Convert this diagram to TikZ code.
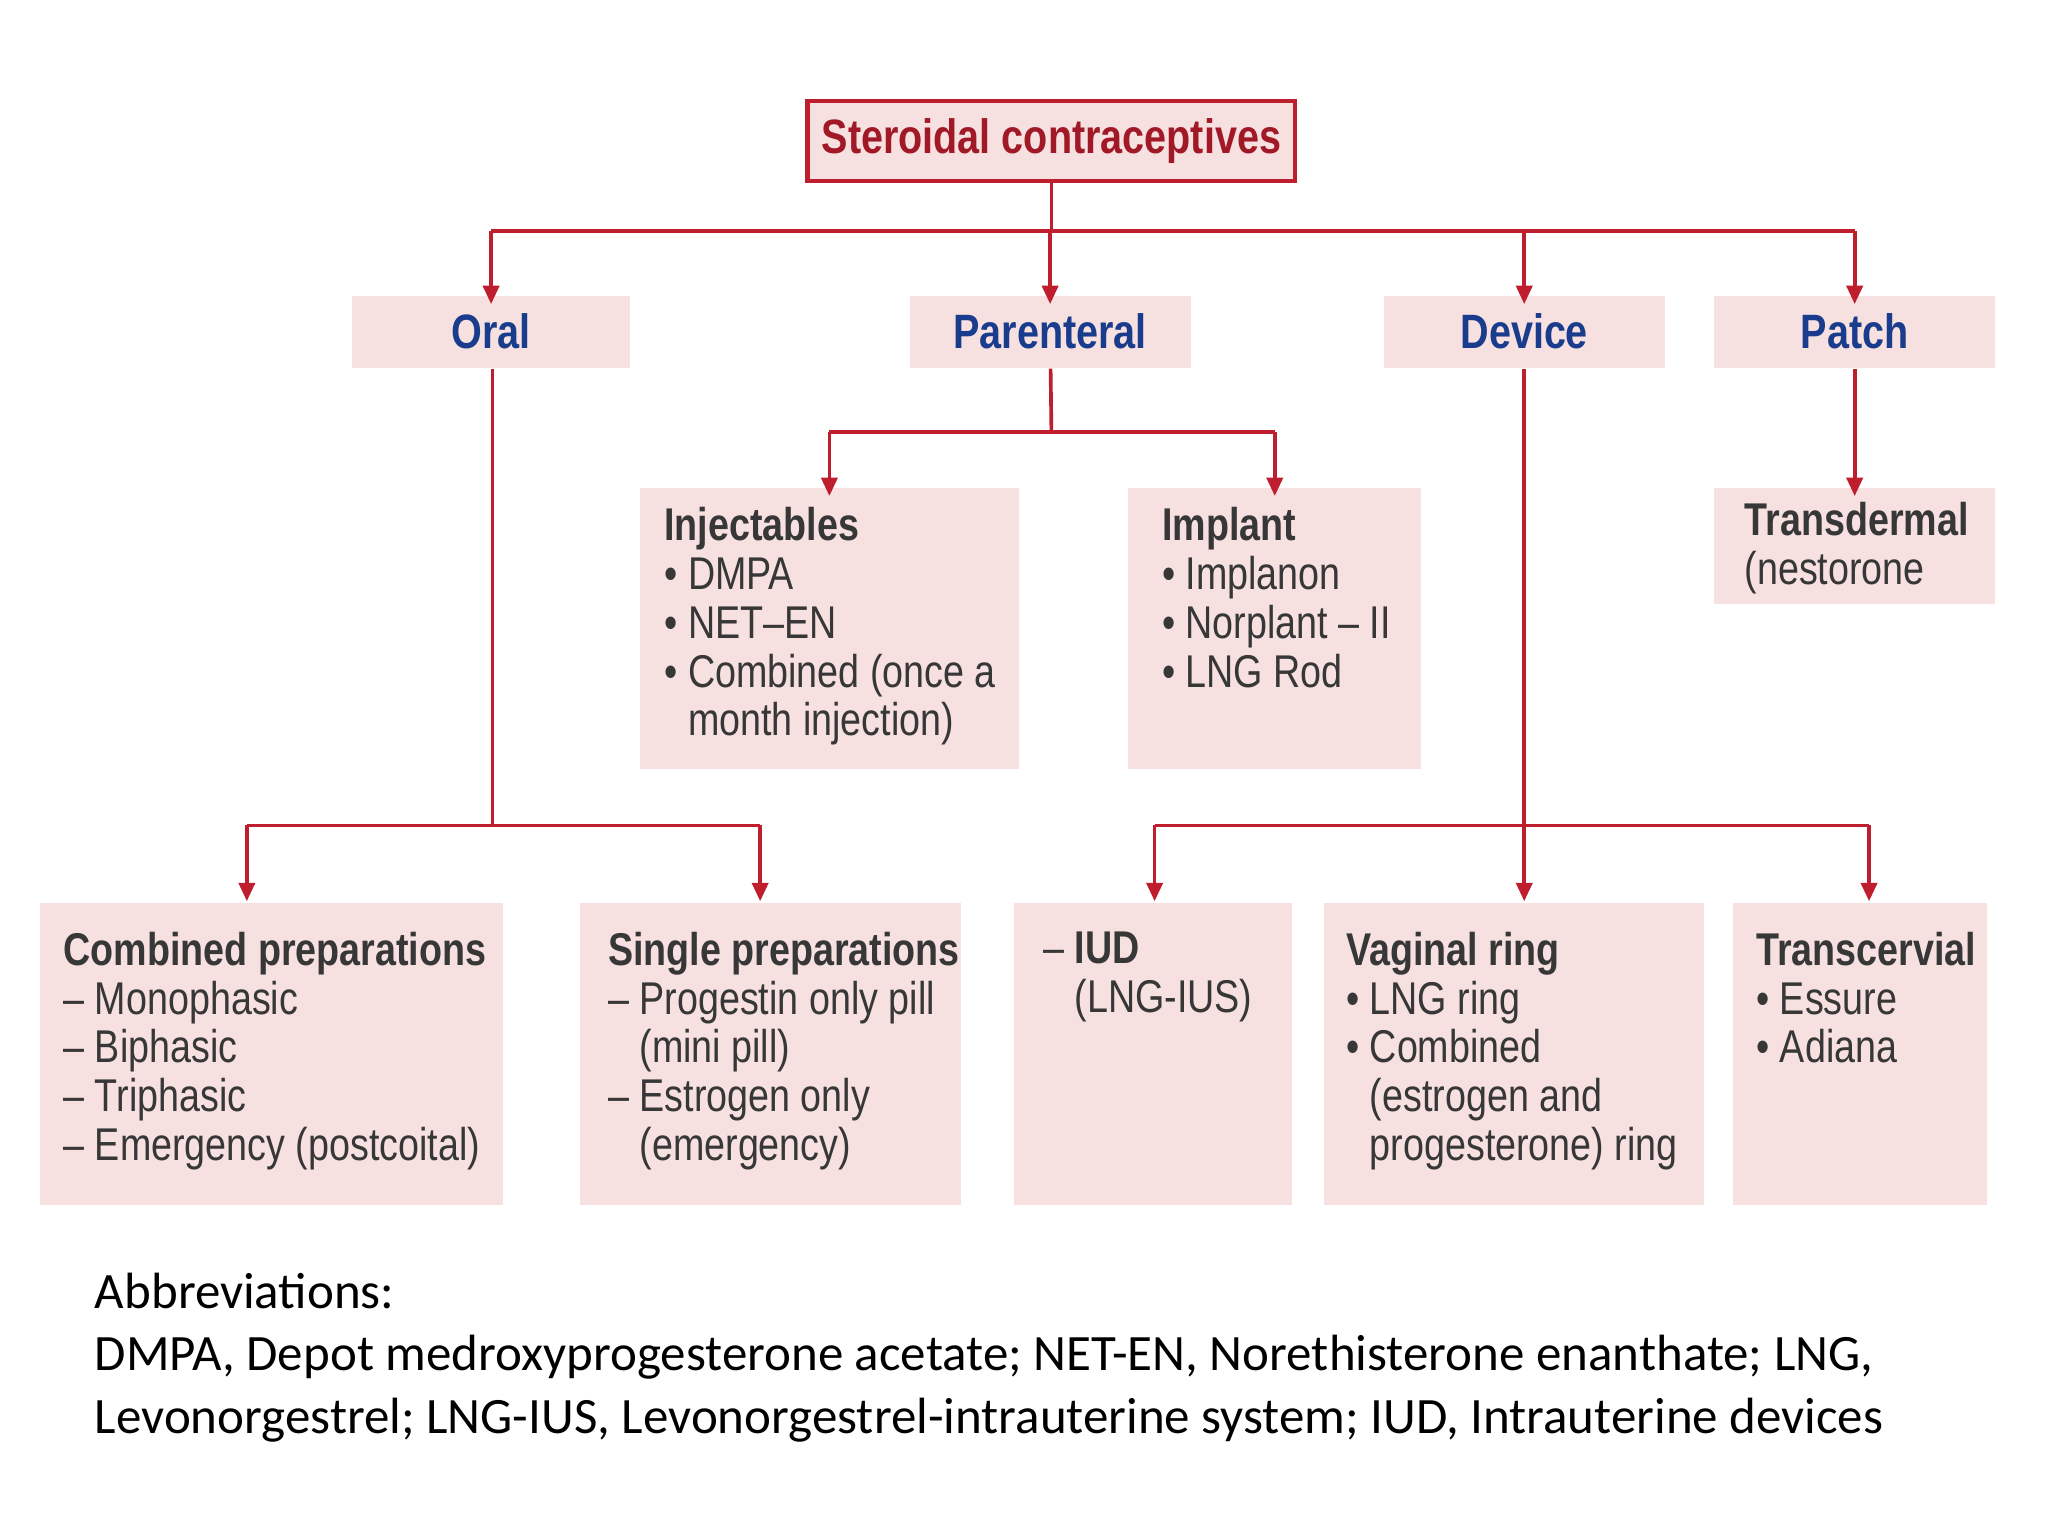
\documentclass[tikz,border=0pt]{standalone}
\usepackage{fontspec}
\setmainfont{Liberation Sans}[FakeStretch=0.82]
\newfontfamily\abbrfont{Carlito}
\usetikzlibrary{arrows.meta,positioning}
\definecolor{linered}{RGB}{190,30,45}
\definecolor{boxpink}{RGB}{246,224,224}
\definecolor{headblue}{RGB}{25,60,140}
\definecolor{txtgray}{RGB}{55,55,55}
\begin{document}
\begin{tikzpicture}[x=0.01cm,y=-0.01cm,
  box/.style={fill=boxpink,inner sep=0pt},
  head/.style={box,minimum height=0.55cm,font=\fontsize{10.5}{12}\selectfont\bfseries,text=headblue},
  body/.style={anchor=north west,align=left,inner sep=0pt,text=txtgray,font=\fontsize{10}{10.6}\selectfont},
  link/.style={draw=linered,line width=0.8pt},
  arr/.style={link,-{Triangle[length=4pt,width=3.5pt]}}]
\useasboundingbox (0,0) rectangle (1568,1176);

% top
\node[box,draw=linered,line width=1pt,minimum width=3.73cm,minimum height=0.61cm,
  font=\fontsize{10.5}{12}\selectfont\bfseries,text=linered!85!black] (steroid) at (805,108) {Steroidal contraceptives};

% first level
\node[head,minimum width=2.13cm] (oral) at (376,254) {Oral};
\node[head,minimum width=2.15cm] (parent) at (804,254) {Parenteral};
\node[head,minimum width=2.15cm] (device) at (1167,254) {Device};
\node[head,minimum width=2.15cm] (patch) at (1420,254) {Patch};

% second level boxes
\node[box,minimum width=2.90cm,minimum height=2.15cm] (inj) at (635,481) {};
\node[box,minimum width=2.24cm,minimum height=2.15cm] (impl) at (976,481) {};
\node[box,minimum width=2.15cm,minimum height=0.89cm] (trans) at (1420,418) {};
\node[box,minimum width=3.54cm,minimum height=2.31cm] (comb) at (208,807) {};
\node[box,minimum width=2.91cm,minimum height=2.31cm] (single) at (590,807) {};
\node[box,minimum width=2.13cm,minimum height=2.31cm] (iud) at (883,807) {};
\node[box,minimum width=2.91cm,minimum height=2.31cm] (vring) at (1159,807) {};
\node[box,minimum width=1.94cm,minimum height=2.31cm] (tcerv) at (1424,807) {};

% texts
\node[body] (injt) at (508,388) {\textbf{Injectables}\\ • DMPA\\ • NET–EN\\ • Combined (once a\\ \hphantom{• }month injection)};
\node[body] (implt) at (889,388) {\textbf{Implant}\\ • Implanon\\ • Norplant – II\\ • LNG Rod};
\node[body] (transt) at (1335,384) {\textbf{Transdermal}\\ (nestorone};
\node[body] (combt) at (48,713) {\textbf{Combined preparations}\\ – Monophasic\\ – Biphasic\\ – Triphasic\\ – Emergency (postcoital)};
\node[body] (singlet) at (465,713) {\textbf{Single preparations}\\ – Progestin only pill\\ \hphantom{– }(mini pill)\\ – Estrogen only\\ \hphantom{– }(emergency)};
\node[body] (iudt) at (798,713) {– \textbf{IUD}\\ \hphantom{– }(LNG-IUS)};
\node[body] (vringt) at (1030,713) {\textbf{Vaginal ring}\\ • LNG ring\\ • Combined\\ \hphantom{• }(estrogen and\\ \hphantom{• }progesterone) ring};
\node[body] (tcervt) at (1344,713) {\textbf{Transcervial}\\ • Essure\\ • Adiana};

% abbreviations
\node[anchor=north west,align=left,inner sep=0pt,font=\abbrfont\fontsize{11.1}{13.6}\selectfont] (abbr) at (72,974)
  {Abbreviations:\\ DMPA, Depot medroxyprogesterone acetate; NET-EN, Norethisterone enanthate; LNG,\\ Levonorgestrel; LNG-IUS, Levonorgestrel-intrauterine system; IUD, Intrauterine devices};

% connectors
\coordinate (top) at (805,177);
\draw[link] (steroid) -- (top);
\draw[link] (oral.north |- top) -- (patch.north |- top);
\foreach \n in {oral,parent,device,patch}
  \draw[arr] (\n.north |- top) -- ([yshift=-2pt]\n.north);

\coordinate (par) at (805,331);
\draw[link] (parent) -- (par);
\draw[link] (inj.north |- par) -- (impl.north |- par);
\draw[arr] (inj.north |- par) -- ([yshift=-2pt]inj.north);
\draw[arr] (impl.north |- par) -- ([yshift=-2pt]impl.north);

\draw[arr] (patch) -- ([yshift=-2pt]trans.north);

\coordinate (orl) at (377,632);
\draw[link] (oral.south -| orl) -- (orl);
\draw[link] (189,632) -- (582,632);
\coordinate (cb) at (189,632);
\coordinate (sg) at (582,632);
\draw[arr] (cb) -- (189,690);
\draw[arr] (sg) -- (582,690);

\coordinate (dv) at (884,632);
\coordinate (tc) at (1431,632);
\draw[link] (dv) -- (tc);
\draw[arr] (dv) -- (884,690);
\draw[arr] (tc) -- (1431,690);
\draw[arr] (device) -- (1167,690);
\end{tikzpicture}
\end{document}
